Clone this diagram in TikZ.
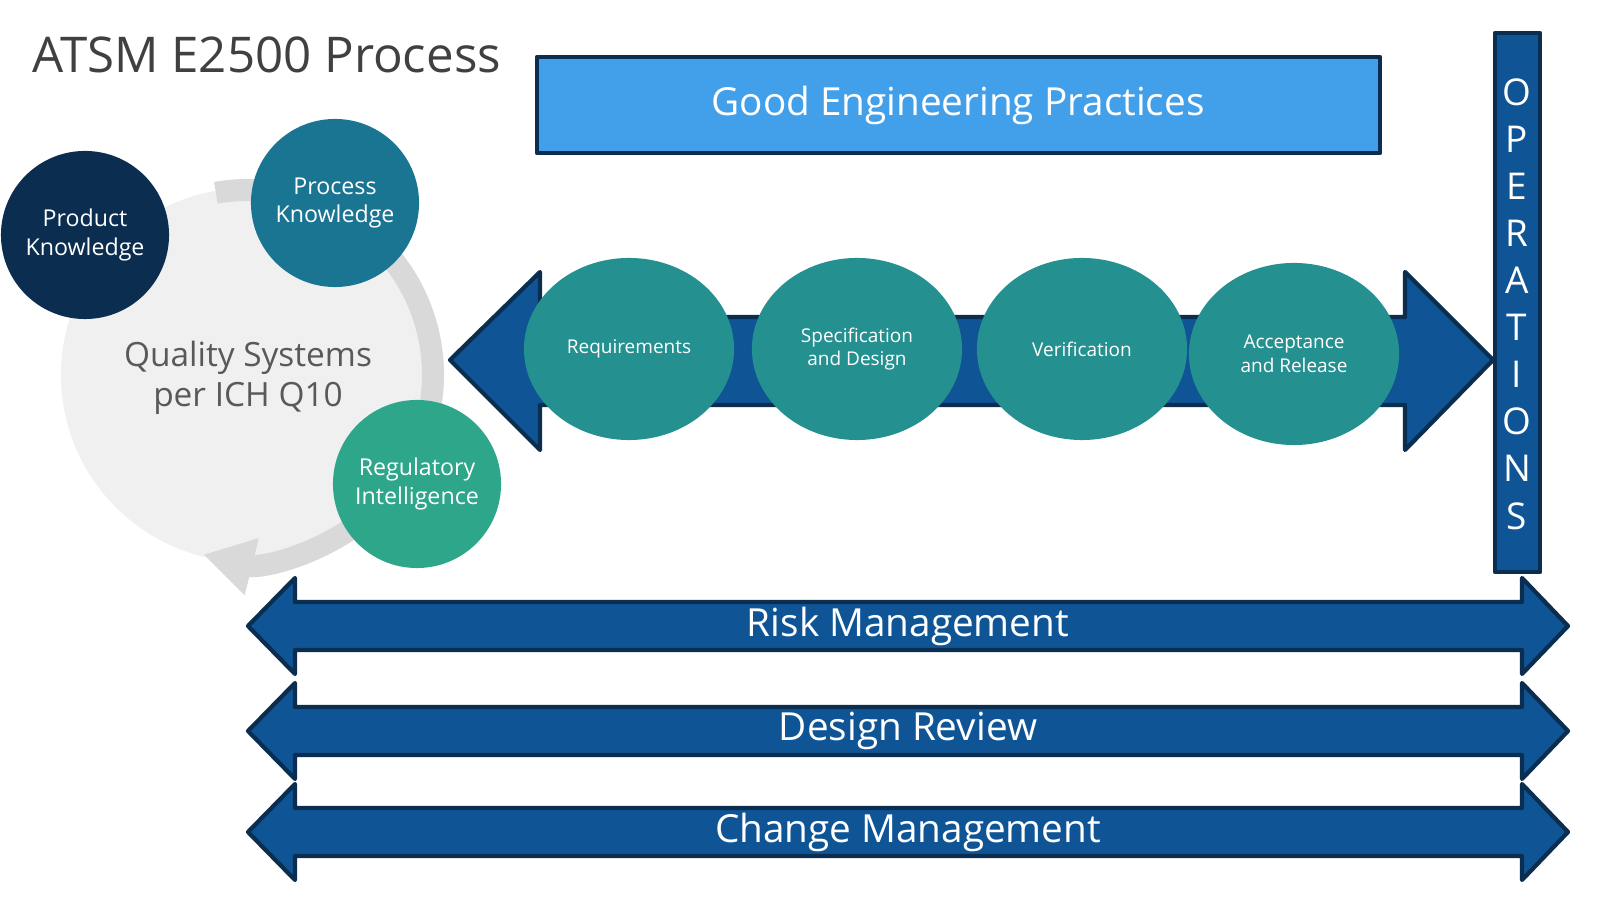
\documentclass[tikz,border=0pt]{standalone}
\usepackage{fontspec}
\setmainfont{Open Sans}
\usetikzlibrary{arrows.meta,positioning,shapes.geometric}
\definecolor{darkblue}{HTML}{0F5596}
\definecolor{edgeblue}{HTML}{0B2D4F}
\definecolor{skyblue}{HTML}{42A0EA}
\definecolor{teal1}{HTML}{259090}
\definecolor{procblue}{HTML}{1A7592}
\definecolor{regteal}{HTML}{2EA68A}
\definecolor{ringgray}{HTML}{D9D9D9}
\begin{document}
\begin{tikzpicture}[x=0.01cm,y=0.01cm,line join=round,
  knowledge/.style={circle,minimum size=1.68cm,inner sep=0pt,align=center,text=white,font=\fontsize{6.6}{8.2}\selectfont},
  phase/.style={ellipse,draw=none,fill=teal1,minimum width=2.1cm,minimum height=1.82cm,inner sep=0pt,align=center,text=white,font=\fontsize{5.4}{6.8}\selectfont},
  bararrow/.style={fill=darkblue,draw=edgeblue,line width=1.2pt},
  bartext/.style={text=white,font=\fontsize{11}{13}\selectfont}]
\useasboundingbox (0,0) rectangle (1600,900);
% title
\node[anchor=west,text=black!75,font=\fontsize{14}{16}\selectfont] (title) at (20,845) {ATSM E2500 Process};
% good engineering practices
\draw[fill=skyblue,draw=edgeblue,line width=1.2pt] (537,747) rectangle (1380,843);
\node[bartext] (gep) at (958,795) {Good Engineering Practices};
% operations
\draw[fill=darkblue,draw=edgeblue,line width=1.2pt] (1495,328) rectangle (1540,867);
\foreach \l [count=\i] in {O,P,E,R,A,T,I,O,N,S}
  \node[text=white,font=\fontsize{10.5}{12}\selectfont] (op\i) at (1517,{808-47.1*(\i-1)}) {\l};
% quality systems cycle
\fill[black!6] (248,525) circle (187);
\draw[ringgray,line width=0.22cm,-{Triangle[width=0.55cm,length=0.5cm]}] ([shift={(100:185)}]248,525) arc (100:-104:185);
\node[text=black!65,font=\fontsize{9.5}{11.5}\selectfont,align=center] (qs) at (248,522) {Quality Systems\\per ICH Q10};
\node[knowledge,fill=edgeblue] (prodk) at (85,665) {Product\\Knowledge};
\node[knowledge,fill=procblue] (prock) at (335,697) {Process\\Knowledge};
\node[knowledge,fill=regteal] (regint) at (417,416) {Regulatory\\Intelligence};
% lifecycle arrow
\draw[bararrow] (450,540)--(540,628)--(540,583)--(1405,583)--(1405,628)--(1493,540)--(1405,450)--(1405,495)--(540,495)--(540,450)--cycle;
\node[phase] (req) at (629,551) {Requirements};
\node[phase] (spec) at (857,551) {Specification\\and Design};
\node[phase] (ver) at (1082,551) {Verification};
\node[phase] (acc) at (1294,546) {Acceptance\\and Release};
% supporting processes
\foreach \y/\t/\n in {274/Risk Management/risk,169/Design Review/review,68/Change Management/change}{
  \draw[bararrow] (248,\y)--(295,\y+48)--(295,\y+24)--(1522,\y+24)--(1522,\y+48)--(1568,\y)--(1522,\y-48)--(1522,\y-24)--(295,\y-24)--(295,\y-48)--cycle;
  \node[bartext] (\n) at (908,\y) {\t};
}
\end{tikzpicture}
\end{document}
